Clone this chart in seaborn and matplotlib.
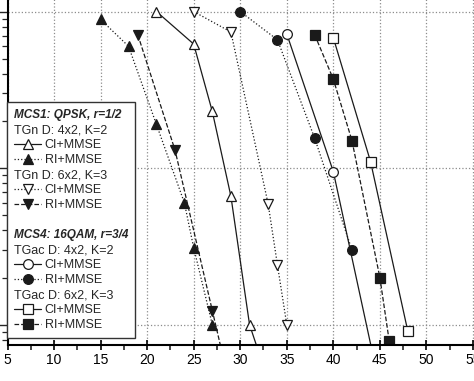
import numpy as np
import matplotlib
matplotlib.use("Agg")
import matplotlib.pyplot as plt
import seaborn as sns
from matplotlib.lines import Line2D
from matplotlib.ticker import LogLocator, MultipleLocator, NullFormatter

# SNR (dB) vs. error rate
tgn_4x2_ci_snr = [21, 25, 27, 29, 31, 33]
tgn_4x2_ci_err = [0.1, 0.062, 0.023, 0.0066, 0.001, 0.00044]
tgn_4x2_ri_snr = [15, 18, 21, 24, 25, 27]
tgn_4x2_ri_err = [0.089, 0.060, 0.019, 0.006, 0.0031, 0.001]
tgn_6x2_ci_snr = [25, 29, 33, 34, 35]
tgn_6x2_ci_err = [0.1, 0.074, 0.0059, 0.0024, 0.001]
tgn_6x2_ri_snr = [19, 23, 27, 29]
tgn_6x2_ri_err = [0.071, 0.013, 0.00123, 0.00038]

tgac_4x2_ci_snr = [35, 40, 45]
tgac_4x2_ci_err = [0.072, 0.0095, 0.0004]
tgac_4x2_ri_snr = [30, 34, 38, 42]
tgac_4x2_ri_err = [0.1, 0.066, 0.0155, 0.003]
tgac_6x2_ci_snr = [40, 44, 48]
tgac_6x2_ci_err = [0.068, 0.011, 0.00091]
tgac_6x2_ri_snr = [38, 40, 42, 45, 46]
tgac_6x2_ri_err = [0.071, 0.037, 0.015, 0.002, 0.00079]

x_ticks = [5, 10, 15, 20, 25, 30, 35, 40, 45, 50, 55, 60]

INK = "#1a1a1a"

sns.set_theme(style="ticks")
plt.rcParams["font.family"] = ["Liberation Sans", "DejaVu Sans"]

fig = plt.figure(figsize=(4.74, 3.81), dpi=100)
# the original figure is cropped: axes run past the top and right edges
ax = fig.add_axes([7.5 / 474, 36 / 381, 512 / 474, 490 / 381])
ax.set_yscale("log")
ax.set_xlim(5, 60)
ax.set_ylim(10 ** -3.13, 1)

# (snr, err, marker, linestyle, filled)
series = [
    (tgn_4x2_ci_snr, tgn_4x2_ci_err, "^", "-", False),
    (tgn_4x2_ri_snr, tgn_4x2_ri_err, "^", ":", True),
    (tgn_6x2_ci_snr, tgn_6x2_ci_err, "v", ":", False),
    (tgn_6x2_ri_snr, tgn_6x2_ri_err, "v", "--", True),
    (tgac_4x2_ci_snr, tgac_4x2_ci_err, "o", "-", False),
    (tgac_4x2_ri_snr, tgac_4x2_ri_err, "o", ":", True),
    (tgac_6x2_ci_snr, tgac_6x2_ci_err, "s", "-", False),
    (tgac_6x2_ri_snr, tgac_6x2_ri_err, "s", "--", True),
]

handles = []
for snr, err, marker, ls, filled in series:
    style = dict(
        color=INK,
        linestyle=ls,
        linewidth=0.9,
        marker=marker,
        markersize=7,
        markerfacecolor=INK if filled else "white",
        markeredgecolor=INK,
        markeredgewidth=0.9,
    )
    sns.lineplot(x=snr, y=err, ax=ax, **style)
    handles.append(Line2D([], [], **style))

ax.grid(True, which="major", linestyle=":", color="#8c8c8c", linewidth=0.9)
ax.set_axisbelow(True)

ax.set_xticks(x_ticks)
ax.xaxis.set_minor_locator(MultipleLocator(2.5))
ax.yaxis.set_major_locator(LogLocator(base=10))
ax.yaxis.set_minor_locator(LogLocator(base=10, subs=np.arange(2, 10)))
ax.yaxis.set_minor_formatter(NullFormatter())
ax.tick_params(axis="x", which="major", direction="inout", length=7, width=1.2,
               labelsize=10, pad=2, colors="black")
ax.tick_params(axis="x", which="minor", direction="out", length=3.5, width=1.2)
ax.tick_params(axis="y", which="major", direction="out", length=7, width=1.0,
               labelleft=False)
ax.tick_params(axis="y", which="minor", direction="out", length=4, width=0.9)
for side in ["left", "bottom"]:
    ax.spines[side].set_linewidth(1.5)
    ax.spines[side].set_color("black")
ax.set_xlabel("")
ax.set_ylabel("")

blank = Line2D([], [], color="none")
entries = [
    ("MCS1: QPSK, r=1/2", None),
    ("TGn D: 4x2, K=2", None),
    ("CI+MMSE", handles[0]),
    ("RI+MMSE", handles[1]),
    ("TGn D: 6x2, K=3", None),
    ("CI+MMSE", handles[2]),
    ("RI+MMSE", handles[3]),
    (" ", None),
    ("MCS4: 16QAM, r=3/4", None),
    ("TGac D: 4x2, K=2", None),
    ("CI+MMSE", handles[4]),
    ("RI+MMSE", handles[5]),
    ("TGac D: 6x2, K=3", None),
    ("CI+MMSE", handles[6]),
    ("RI+MMSE", handles[7]),
]
leg = ax.legend(
    [h if h is not None else blank for _, h in entries],
    [t for t, _ in entries],
    loc="lower left",
    bbox_to_anchor=(7 / 474, 43 / 381),
    bbox_transform=fig.transFigure,
    borderaxespad=0,
    fontsize=9,
    handlelength=2.2,
    handletextpad=0.25,
    labelspacing=0.24,
    borderpad=0.55,
    numpoints=1,
    fancybox=False,
    framealpha=1,
    edgecolor="#333333",
)
leg.get_frame().set_linewidth(1.0)

# header rows: drop the (empty) handle so the text starts at the left edge
column = leg._legend_handle_box.get_children()[0]
for row, text, (label, h) in zip(column.get_children(), leg.get_texts(), entries):
    if h is None:
        row._children = [row._children[1]]
    if label.startswith("MCS"):
        text.set_fontweight("bold")
        text.set_fontstyle("italic")
        text.set_fontsize(8.5)

fig.savefig("out.png", dpi=100)
